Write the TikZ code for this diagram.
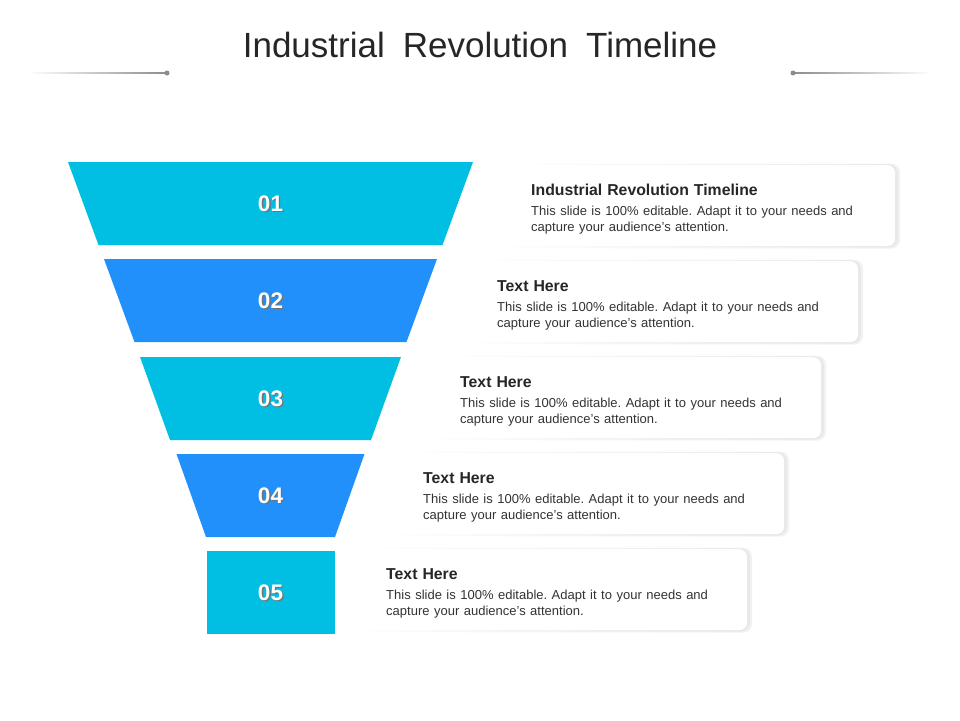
\documentclass[tikz,border=0pt]{standalone}
\usepackage{fontspec}
\setmainfont{Liberation Sans}
\usetikzlibrary{fadings}
\definecolor{segcyan}{HTML}{00BFE3}
\definecolor{segblue}{HTML}{2290FA}
\definecolor{txtdark}{HTML}{262626}
\definecolor{txtbody}{HTML}{333333}
\frenchspacing
\newcommand{\slidetitlefont}{\fontsize{35}{40}\selectfont\spaceskip=18pt\relax}
\newcommand{\cardtitlefont}{\fontsize{15.8}{18}\selectfont\bfseries\spaceskip=5pt\relax}
\newcommand{\cardbodyfont}{\fontsize{13}{16}\selectfont\spaceskip=4.5pt\relax}

\begin{document}
\begin{tikzpicture}[x=1pt, y=-1pt,
    cardbox/.style={fill=white, rounded corners=8pt, minimum height=81pt, inner sep=0pt, anchor=north west},
    cardshadow/.style={path fading=west, rounded corners=9pt, inner sep=0pt, anchor=north west},
    cardtitle/.style={anchor=base west, inner sep=0pt, font=\cardtitlefont, text=txtdark},
    cardbody/.style={anchor=north west, inner sep=0pt, align=left, font=\cardbodyfont, text=txtbody},
    numlabel/.style={font=\fontsize{22.5}{24}\selectfont\bfseries, text=white},
    numshadow/.style={font=\fontsize{22.5}{24}\selectfont\bfseries, text=black!55}]
    \useasboundingbox (0,0) rectangle (960,720);
    % 标题
    \node[font=\slidetitlefont, text=txtdark, anchor=base] (title) at (480,57) {Industrial Revolution Timeline};
    % 标题两侧的线
    \shade[left color=white, right color=black!45] (28,72.5) rectangle (167,73.5);
    \shade[left color=black!45, right color=white] (793,72.5) rectangle (932,73.5);
    \node[circle, fill=black!45, inner sep=0pt, minimum size=5pt] (dotl) at (167,73) {};
    \node[circle, fill=black!45, inner sep=0pt, minimum size=5pt] (dotr) at (793,73) {};
    % 漏斗
    \foreach \i/\yt/\wt/\wb/\col in {1/162/202.5/172/segcyan, 2/259/166.5/136/segblue, 3/357/130.5/100.5/segcyan, 4/454/94/64.5/segblue, 5/551/64/64/segcyan}
    {
        \fill[\col] (270.5-\wt,\yt) -- (270.5+\wt,\yt) -- (270.5+\wb,\yt+83) -- (270.5-\wb,\yt+83) -- cycle;
        \node[numshadow] (nums\i) at (271.8,\yt+43) {0\i};
        \node[numlabel] (num\i) at (270.5,\yt+41.5) {0\i};
    }
    % 文字卡片
    \foreach \i/\cl/\cw/\ct/\ttl in {1/495/400/165/Industrial Revolution Timeline, 2/461/397/261/Text Here, 3/424/397/357/Text Here, 4/387/397/453/Text Here, 5/350/397/549/Text Here}
    {
        \node[cardshadow, fill=black!5, minimum width=\cw pt+5pt, minimum height=85pt] (glow\i) at (\cl,\ct-1.5) {};
        \node[cardshadow, fill=black!9, minimum width=\cw pt+3pt, minimum height=83pt] (shadow\i) at (\cl,\ct-0.7) {};
        \node[cardbox, minimum width=\cw pt] (card\i) at (\cl,\ct) {};
        \node[cardtitle] (head\i) at (\cl+36,\ct+30) {\ttl};
        \node[cardbody] (body\i) at (\cl+36,\ct+40.5) {This slide is 100\% editable. Adapt it to your needs and\\capture your audience's attention.};
    }
\end{tikzpicture}
\end{document}
